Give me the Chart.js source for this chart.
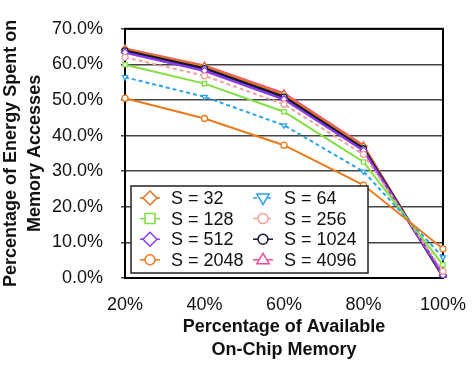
<!DOCTYPE html>
<html>
<head>
<meta charset="utf-8">
<script src="https://cdn.jsdelivr.net/npm/chart.js@4.4.1/dist/chart.umd.min.js"></script>
<style>
  html, body { margin: 0; padding: 0; background: #fff; }
</style>
</head>
<body>
<canvas id="energyChart" width="474" height="366"></canvas>
<script>
// available on-chip memory (x categories)
const memory = ['20%', '40%', '60%', '80%', '100%'];
const sizeLabels = ['S = 32', 'S = 64', 'S = 128', 'S = 256', 'S = 512', 'S = 1024', 'S = 2048', 'S = 4096'];

// energy spent on memory accesses, in percent
const s32   = [64.3, 59.4, 51.5, 37.0, 0.4];
const s64   = [56.4, 50.9, 42.9, 29.9, 5.8];
const s128  = [59.9, 54.6, 46.7, 32.6, 3.7];
const s256  = [62.0, 56.8, 48.8, 34.7, 1.9];
const s512  = [63.3, 58.2, 50.2, 35.8, 0.8];
const s1024 = [63.8, 58.8, 50.8, 36.3, 0.6];
const s2048 = [50.5, 44.8, 37.3, 26.1, 8.2];
const s4096 = [64.5, 59.7, 51.9, 37.3, 0.2];

const yTicks = [0, 10, 20, 30, 40, 50, 60, 70];

const FONT = '"Liberation Sans", Arial, Helvetica, sans-serif';

function series(label, data, color, shape, opts) {
    return Object.assign({
        label: label,
        data: data,
        borderColor: color,
        backgroundColor: '#fff',
        borderWidth: 2,
        pointStyle: shape,
        pointRadius: 3,
        pointBorderWidth: 1.3,
        pointBorderColor: color,
        pointBackgroundColor: '#fff',
        tension: 0
    }, opts || {});
}

const datasets = [
    series(sizeLabels[0], s32, '#E8731E', 'rectRot', { order: 7, borderWidth: 2.5, pointRadius: 3.5 }),
    series(sizeLabels[1], s64, '#2BA3E8', 'triangle', { order: 2, borderDash: [4, 3], pointRotation: 180 }),
    series(sizeLabels[2], s128, '#7FE040', 'rect', { order: 3 }),
    series(sizeLabels[3], s256, '#F3A09A', 'circle', { order: 4, borderDash: [4, 3] }),
    series(sizeLabels[4], s512, '#8B3BE8', 'rectRot', { order: 5, borderWidth: 2.5, pointRadius: 3.5 }),
    series(sizeLabels[5], s1024, '#111833', 'circle', { order: 6, borderWidth: 3 }),
    series(sizeLabels[6], s2048, '#EC7A1C', 'circle', { order: 1 }),
    series(sizeLabels[7], s4096, '#F04B9C', 'triangle', { order: 8, pointRadius: 3.5 })
];

function drawMarker(ctx, shape, x, y, r, rotation) {
    ctx.beginPath();
    if (shape === 'circle') {
        ctx.arc(x, y, r, 0, Math.PI * 2);
    } else if (shape === 'rect') {
        ctx.rect(x - r, y - r, r * 2, r * 2);
    } else if (shape === 'rectRot') {
        ctx.moveTo(x, y - r);
        ctx.lineTo(x + r, y);
        ctx.lineTo(x, y + r);
        ctx.lineTo(x - r, y);
        ctx.closePath();
    } else if (shape === 'triangle') {
        const s = rotation === 180 ? -1 : 1;
        ctx.moveTo(x, y - s * r);
        ctx.lineTo(x + r * 0.95, y + s * r * 0.6);
        ctx.lineTo(x - r * 0.95, y + s * r * 0.6);
        ctx.closePath();
    }
    ctx.fill();
    ctx.stroke();
}

// legend box sitting inside the plot, two columns
const insideLegend = {
    id: 'insideLegend',
    afterDatasetsDraw(chart) {
        const ctx = chart.ctx;
        const area = chart.chartArea;
        const boxL = area.left + 6, boxW = 237, boxH = 87;
        const boxT = area.bottom - 5 - boxH;
        ctx.save();
        ctx.fillStyle = '#fff';
        ctx.fillRect(boxL, boxT, boxW, boxH);
        ctx.lineWidth = 1.5;
        ctx.strokeStyle = '#222';
        ctx.strokeRect(boxL, boxT, boxW, boxH);

        const sizes = { circle: 5, rect: 5, rectRot: 7, triangle: 6.5 };
        chart.data.datasets.forEach(function(ds, i) {
            const col = i % 2, row = Math.floor(i / 2);
            const mx = boxL + 19 + col * 113;
            const my = boxT + 12 + row * 20.6;
            ctx.strokeStyle = ds.borderColor;
            ctx.lineWidth = 1.5;
            ctx.setLineDash(ds.borderDash || []);
            ctx.beginPath();
            ctx.moveTo(mx - 10, my);
            ctx.lineTo(mx + 10, my);
            ctx.stroke();
            ctx.setLineDash([]);
            ctx.fillStyle = '#fff';
            drawMarker(ctx, ds.pointStyle, mx, my, sizes[ds.pointStyle], ds.pointRotation);
            ctx.fillStyle = '#111';
            ctx.font = '18px ' + FONT;
            ctx.textBaseline = 'middle';
            ctx.textAlign = 'left';
            ctx.fillText(ds.label, mx + 21, my + 1);
        });
        ctx.restore();
    }
};

// black frame round the plot area
const plotFrame = {
    id: 'plotFrame',
    beforeDatasetsDraw(chart) {
        const ctx = chart.ctx;
        const a = chart.chartArea;
        ctx.save();
        ctx.strokeStyle = '#000';
        ctx.lineWidth = 2;
        ctx.strokeRect(a.left, a.top, a.right - a.left, a.bottom - a.top);
        ctx.restore();
    }
};

const ctx = document.getElementById('energyChart').getContext('2d');
const energyChart = new Chart(ctx, {
    type: 'line',
    data: {
        labels: memory,
        datasets: datasets
    },
    options: {
        responsive: false,
        animation: false,
        layout: {
            padding: { top: 20, right: 25, bottom: 0, left: 0 }
        },
        plugins: {
            legend: { display: false },
            tooltip: { enabled: false }
        },
        scales: {
            x: {
                type: 'category',
                offset: false,
                grid: { display: false },
                border: { display: false },
                ticks: {
                    color: '#111',
                    padding: 8,
                    maxRotation: 0,
                    font: { family: FONT, size: 18 }
                },
                title: {
                    display: true,
                    text: ['Percentage of Available', 'On-Chip Memory'],
                    color: '#111',
                    padding: { top: 0, bottom: 4 },
                    font: { family: FONT, size: 18, weight: 'bold', lineHeight: 1.28 }
                },
                afterFit(scale) { scale.height = 88; }
            },
            y: {
                min: 0,
                max: 70,
                afterBuildTicks(scale) {
                    scale.ticks = yTicks.map(function(v) { return { value: v }; });
                },
                grid: {
                    color: '#444',
                    lineWidth: 1.5,
                    tickLength: 4
                },
                border: { display: false },
                ticks: {
                    color: '#111',
                    padding: 18,
                    font: { family: FONT, size: 18 },
                    callback: function(v) { return v.toFixed(1) + '%'; }
                },
                title: {
                    display: true,
                    text: ['Percentage of Energy Spent on', 'Memory Accesses'],
                    color: '#111',
                    padding: { top: 0, bottom: 0 },
                    font: { family: FONT, size: 18, weight: 'bold', lineHeight: 1.28 }
                },
                afterFit(scale) { scale.width = 125; }
            }
        }
    },
    plugins: [plotFrame, insideLegend]
});
</script>
</body>
</html>
